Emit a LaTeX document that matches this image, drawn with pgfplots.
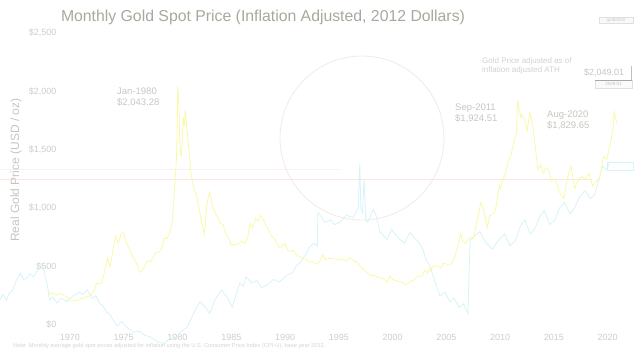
\documentclass[border=0pt]{standalone}
\usepackage{fontspec}
\setmainfont{Liberation Sans}
\usepackage{pgfplots}
\pgfplotsset{compat=1.18}
\definecolor{goldline}{RGB}{250,248,168}
\definecolor{cyanline}{RGB}{214,243,247}
\definecolor{pinkline}{RGB}{250,228,228}
\definecolor{circ}{RGB}{244,234,234}
\definecolor{titlegray}{RGB}{168,168,158}
\definecolor{ticklab}{RGB}{205,205,205}
\definecolor{annot}{RGB}{198,198,192}
\begin{document}
\begin{tikzpicture}[x=1pt,y=1pt]
\useasboundingbox (0,0) rectangle (640,360);
\begin{axis}[at={(0,0)}, anchor=south west, scale only axis,
  width=640pt, height=360pt,
  xmin=1963.5, xmax=2023, ymin=-300, ymax=2783,
  axis line style={draw=none}, major tick length=0pt,
  clip=false,
  /pgf/number format/assume math mode=true,
  xtick={1970,1975,...,2020},
  xticklabel style={anchor=center, yshift=23pt, font=\fontsize{9}{10}\selectfont, text=ticklab, /pgf/number format/1000 sep={}},
  ytick={0,500,1000,1500,2000,2500},
  yticklabels={{\$0},{\$500},{\$1,000},{\$1,500},{\$2,000},{\$2,500}},
  yticklabel style={anchor=east, xshift=60pt, font=\fontsize{9}{10}\selectfont, text=ticklab},
]
% reference lines
\addplot[pinkline!60!white, line width=0.8pt] coordinates {(1963.5,1330) (1995,1330)};
\addplot[pinkline, line width=1pt] coordinates {(1963.5,1250) (2018.5,1250)};
% cyan series
\addplot[cyanline, line width=0.8pt] coordinates {
(1963.5,220)(1963.8,260)(1964.1,210)(1964.4,280)(1964.7,300)(1965.0,380)(1965.4,445)(1965.7,390)(1966.0,400)(1966.3,440)(1966.6,410)(1967.0,470)(1967.5,500)(1967.7,420)(1967.9,350)(1968.1,214)(1968.4,240)(1968.8,190)(1969.2,230)(1969.7,200)(1970.3,250)(1970.9,280)(1971.2,260)(1971.6,300)(1972.1,230)(1972.4,250)(1972.8,180)(1973.1,160)(1973.4,110)(1973.7,90)(1974.0,43)(1974.4,-10)(1974.8,30)(1975.3,-20)(1975.9,-60)(1976.5,-55)(1977.0,-90)(1977.4,-100)(1978.1,-140)(1978.8,-160)(1979.3,-110)(1979.8,-120)(1980.3,-60)(1980.9,-20)(1981.5,100)(1982.1,200)(1982.5,160)(1983.0,100)(1983.5,220)(1984.1,300)(1984.6,240)(1985.1,150)(1985.5,280)(1985.8,360)(1986.1,330)(1986.4,410)(1986.9,360)(1987.4,380)(1987.8,320)(1988.3,340)(1988.9,390)(1989.5,370)(1990.1,420)(1990.7,450)(1991.0,500)(1991.4,535)(1991.9,600)(1992.3,670)(1992.7,700)(1993.0,670)(1993.05,960)(1993.2,950)(1993.7,880)(1994.2,900)(1994.6,860)(1995.1,880)(1995.7,940)(1996.3,920)(1996.8,1000)(1996.95,1380)(1997.05,1000)(1997.2,960)(1997.35,1250)(1997.5,900)(1997.7,880)(1998.2,990)(1998.5,930)(1998.8,800)(1999.2,760)(1999.5,730)(1999.9,820)(2000.2,780)(2000.6,740)(2001.1,700)(2001.6,790)(2002.1,740)(2002.5,700)(2002.8,650)(2003.1,560)(2003.5,500)(2003.9,380)(2004.4,250)(2004.9,280)(2005.3,200)(2005.7,230)(2006.2,150)(2006.6,180)(2007.0,100)(2007.1,400)(2007.2,720)(2007.6,760)(2008.1,800)(2008.7,700)(2009.3,650)(2009.8,720)(2010.4,780)(2010.9,680)(2011.4,720)(2011.9,850)(2012.3,900)(2012.8,780)(2013.2,820)(2013.7,930)(2014.1,980)(2014.6,860)(2015.1,900)(2015.5,1000)(2016.0,1050)(2016.5,950)(2016.9,1000)(2017.4,1100)(2017.9,1150)(2018.4,1080)(2018.8,1120)(2019.2,1250)(2019.5,1360)(2019.9,1330)(2020.2,1400)
};
% gold series (real, 2012 dollars)
\addplot[goldline, line width=0.8pt] coordinates {
(1968.0,257)(1968.25,275)(1968.5,265)(1968.75,255)(1969.0,270)(1969.25,265)(1969.5,250)(1969.75,235)(1970.0,215)(1970.25,210)(1970.5,208)(1970.75,212)(1971.0,225)(1971.25,230)(1971.5,240)(1971.75,245)(1972.0,260)(1972.25,300)(1972.5,360)(1972.75,350)(1973.0,370)(1973.25,470)(1973.5,570)(1973.75,500)(1974.0,640)(1974.25,760)(1974.5,700)(1974.75,780)(1975.0,790)(1975.25,700)(1975.5,660)(1975.75,600)(1976.0,560)(1976.25,520)(1976.5,450)(1976.75,470)(1977.0,520)(1977.25,550)(1977.5,540)(1977.75,580)(1978.0,620)(1978.25,620)(1978.5,650)(1978.75,740)(1979.0,740)(1979.25,780)(1979.5,880)(1979.75,1180)(1979.92,1450)(1980.04,2043)(1980.12,1930)(1980.21,1580)(1980.29,1460)(1980.38,1450)(1980.46,1650)(1980.54,1780)(1980.63,1700)(1980.71,1840)(1980.79,1780)(1980.88,1680)(1980.96,1600)(1981.12,1450)(1981.25,1300)(1981.5,1180)(1981.75,1120)(1982.0,1000)(1982.25,880)(1982.5,780)(1982.75,1050)(1983.0,1140)(1983.25,1020)(1983.5,960)(1983.75,920)(1984.0,870)(1984.25,860)(1984.5,780)(1984.75,750)(1985.0,680)(1985.25,690)(1985.5,690)(1985.75,700)(1986.0,720)(1986.25,700)(1986.5,740)(1986.75,870)(1987.0,830)(1987.25,910)(1987.5,890)(1987.75,940)(1988.0,900)(1988.25,850)(1988.5,810)(1988.75,760)(1989.0,740)(1989.25,700)(1989.5,660)(1989.75,680)(1990.0,700)(1990.25,640)(1990.5,630)(1990.75,640)(1991.0,610)(1991.25,590)(1991.5,580)(1991.75,570)(1992.0,560)(1992.25,540)(1992.5,540)(1992.75,530)(1993.0,520)(1993.25,550)(1993.5,600)(1993.75,560)(1994.0,570)(1994.25,570)(1994.5,565)(1994.75,565)(1995.0,560)(1995.25,560)(1995.5,555)(1995.75,550)(1996.0,575)(1996.25,560)(1996.5,545)(1996.75,535)(1997.0,500)(1997.25,480)(1997.5,460)(1997.75,440)(1998.0,420)(1998.25,430)(1998.5,410)(1998.75,405)(1999.0,400)(1999.25,390)(1999.5,360)(1999.75,420)(2000.0,390)(2000.25,380)(2000.5,375)(2000.75,370)(2001.0,360)(2001.25,345)(2001.5,360)(2001.75,380)(2002.0,385)(2002.25,410)(2002.5,420)(2002.75,420)(2003.0,470)(2003.25,445)(2003.4,480)(2003.5,460)(2003.75,500)(2004.0,510)(2004.25,500)(2004.5,490)(2004.75,530)(2005.0,520)(2005.25,520)(2005.5,525)(2005.75,580)(2006.0,650)(2006.33,780)(2006.5,720)(2006.75,700)(2007.0,730)(2007.25,750)(2007.5,740)(2007.75,850)(2008.0,950)(2008.2,1050)(2008.5,970)(2008.8,830)(2009.0,930)(2009.25,950)(2009.5,960)(2009.75,1080)(2009.92,1200)(2010.0,1170)(2010.25,1240)(2010.5,1300)(2010.75,1400)(2011.0,1450)(2011.25,1560)(2011.5,1640)(2011.6,1850)(2011.67,1924)(2011.75,1850)(2011.92,1780)(2012.0,1800)(2012.25,1760)(2012.5,1660)(2012.75,1820)(2013.0,1730)(2013.25,1540)(2013.5,1330)(2013.75,1370)(2014.0,1300)(2014.25,1340)(2014.5,1330)(2014.75,1230)(2015.0,1250)(2015.25,1220)(2015.5,1140)(2015.92,1080)(2016.25,1260)(2016.6,1360)(2016.92,1170)(2017.25,1240)(2017.6,1270)(2017.92,1250)(2018.25,1300)(2018.6,1190)(2018.92,1230)(2019.25,1260)(2019.6,1440)(2019.92,1420)(2020.25,1560)(2020.5,1690)(2020.58,1829)(2020.75,1760)(2020.92,1720)
};
\end{axis}
% decorations
\draw[circ, line width=0.9pt] (362,222) circle (82);
\node[anchor=center, text=titlegray, font=\fontsize{15.8}{18}\selectfont] at (263,343) {Monthly Gold Spot Price (Inflation Adjusted, 2012 Dollars)};
\node[rotate=90, anchor=center, text=annot, font=\fontsize{12}{14}\selectfont] at (16,190) {Real Gold Price (USD / oz)};
\node[anchor=west, inner sep=0pt, text=annot, font=\fontsize{9.5}{11}\selectfont, align=left] at (117,263) {Jan-1980\\\$2,043.28};
\node[anchor=west, inner sep=0pt, text=annot, font=\fontsize{9.5}{11}\selectfont, align=left] at (455,247) {Sep-2011\\\$1,924.51};
\node[anchor=west, inner sep=0pt, text=annot, font=\fontsize{9.5}{11}\selectfont, align=left] at (547,240) {Aug-2020\\\$1,829.65};
\node[anchor=west, inner sep=0pt, text=annot!80!white, font=\fontsize{8}{9.5}\selectfont, align=left] at (482,294) {Gold Price adjusted as of\\inflation adjusted ATH};
\node[anchor=west, inner sep=0pt, text=annot, font=\fontsize{9}{10}\selectfont] at (584,287) {\$2,049.01};
\draw[gray!50, line width=0.5pt] (631,280) -- (631,294);
\draw[gray!25, fill=gray!4] (595,272) rectangle (632,280);
\draw[gray!70, line width=0.6pt] (595,280) -- (632,280);
\node[inner sep=0pt, text=gray!50, font=\fontsize{4.5}{5}\selectfont] at (613.5,276) {2049.01};
\draw[gray!25, fill=gray!5] (599,337) rectangle (633,343);
\node[inner sep=0pt, text=gray!45, font=\fontsize{4.5}{5}\selectfont] at (616,340) {gold2020};
\draw[cyanline, line width=0.6pt] (607,190) rectangle (633,198);
\node[anchor=west, inner sep=0pt, text=annot!75!white, font=\fontsize{5.7}{6}\selectfont] at (13,14) {Note: Monthly average gold spot prices adjusted for inflation using the U.S. Consumer Price Index (CPI-U), base year 2012.};
\end{tikzpicture}
\end{document}
